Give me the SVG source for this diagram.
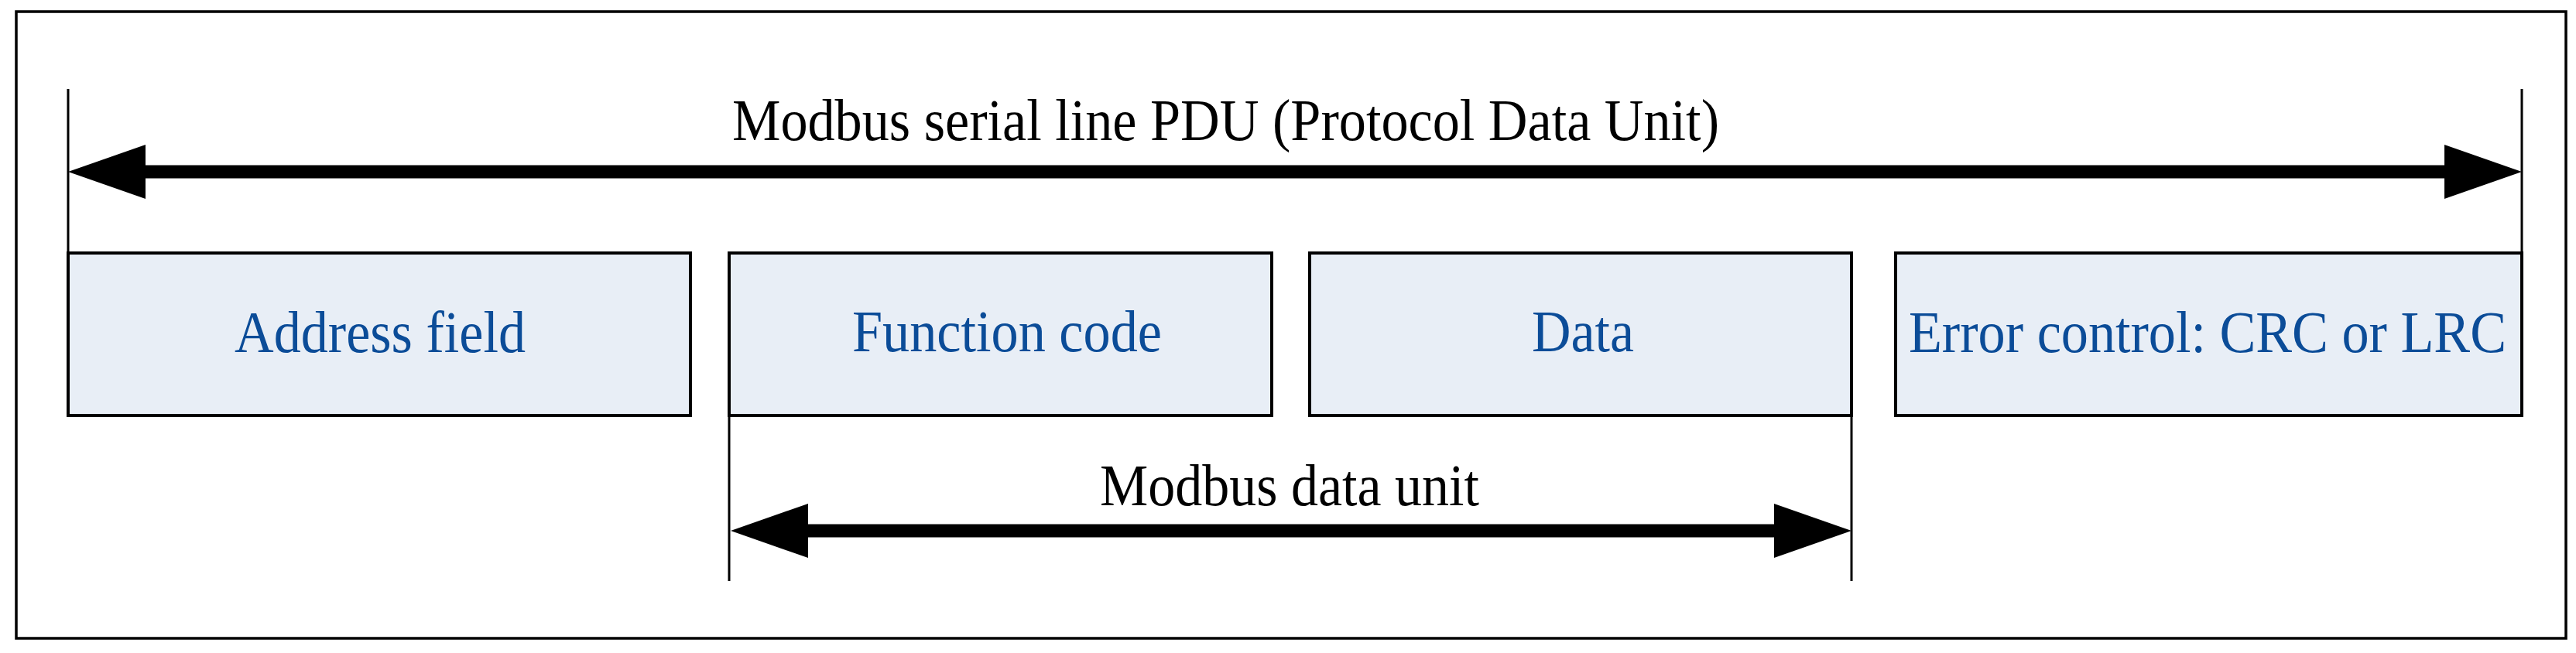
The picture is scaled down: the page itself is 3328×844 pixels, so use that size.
<svg xmlns="http://www.w3.org/2000/svg" width="3328" height="844" viewBox="0 0 3328 844">
<style>
.frame{fill:#ffffff;stroke:#000000;stroke-width:3.5}
.box{fill:#E8EEF6;stroke:#000000;stroke-width:4}
.tick{stroke:#000000;stroke-width:3;fill:none}
.arrow{stroke:#000000;stroke-width:17;fill:none}
.lbl{font-family:"Liberation Serif","Times New Roman",serif;font-size:76px;fill:#000000}
.blbl{font-family:"Liberation Serif","Times New Roman",serif;font-size:76px;fill:#0B4C98}
</style>
<defs>
<marker id="head" viewBox="0 0 100 70" refX="0" refY="35" markerWidth="100" markerHeight="70" markerUnits="userSpaceOnUse" orient="auto-start-reverse">
<path d="M0,0 L100,35 L0,70 Z" fill="#000000"/>
</marker>
</defs>
<rect class="frame" x="21" y="15" width="3294" height="810"/>
<g id="connectors">
<line class="tick" x1="88" y1="115" x2="88" y2="327"/>
<line class="tick" x1="3258" y1="115" x2="3258" y2="327"/>
<line class="tick" x1="942" y1="537" x2="942" y2="751"/>
<line class="tick" x1="2392" y1="537" x2="2392" y2="751"/>
<line id="pdu-arrow" class="arrow" x1="188" y1="222" x2="3158" y2="222" marker-start="url(#head)" marker-end="url(#head)"/>
<line id="data-arrow" class="arrow" x1="1044" y1="686" x2="2292" y2="686" marker-start="url(#head)" marker-end="url(#head)"/>
<text class="lbl" x="946" y="181" textLength="1275" lengthAdjust="spacingAndGlyphs">Modbus serial line PDU (Protocol Data Unit)</text>
<text class="lbl" x="1421" y="653" textLength="490" lengthAdjust="spacingAndGlyphs">Modbus data unit</text>
</g>
<g id="address">
<rect class="box" x="88" y="327" width="804" height="210"/>
<text class="blbl" x="303" y="455" textLength="376" lengthAdjust="spacingAndGlyphs">Address field</text>
</g>
<g id="function">
<rect class="box" x="942" y="327" width="701" height="210"/>
<text class="blbl" x="1101" y="454" textLength="400" lengthAdjust="spacingAndGlyphs">Function code</text>
</g>
<g id="data">
<rect class="box" x="1692" y="327" width="700" height="210"/>
<text class="blbl" x="1979" y="454" textLength="132" lengthAdjust="spacingAndGlyphs">Data</text>
</g>
<g id="error">
<rect class="box" x="2449" y="327" width="809" height="210"/>
<text class="blbl" x="2466" y="455" textLength="772" lengthAdjust="spacingAndGlyphs">Error control: CRC or LRC</text>
</g>
</svg>
